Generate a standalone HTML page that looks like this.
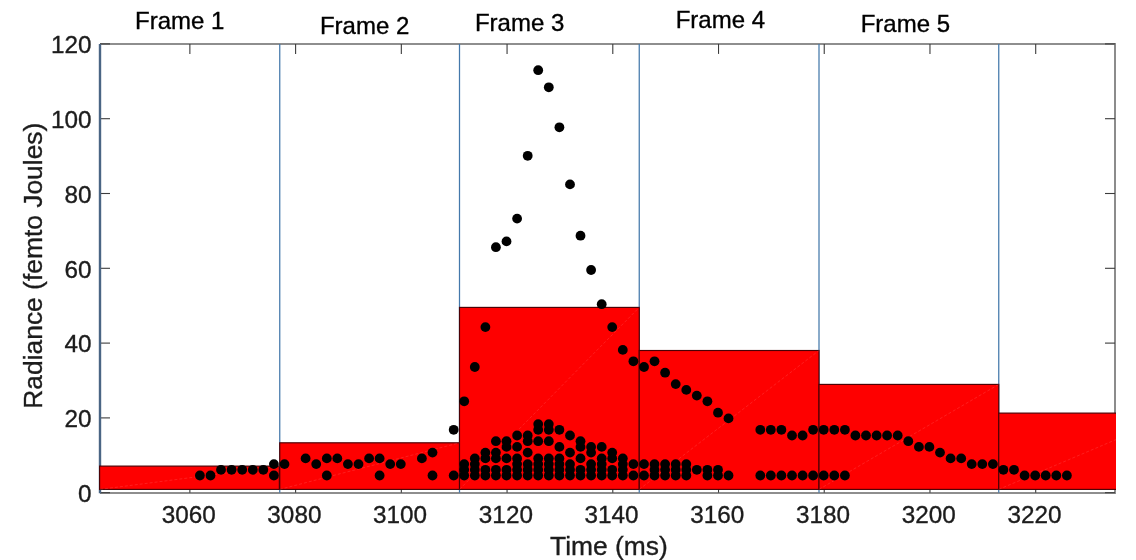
<!DOCTYPE html><html><head><meta charset="utf-8"><title>Radiance vs Time</title>
<style>html,body{margin:0;padding:0;background:#fff}svg{display:block}text{font-family:"Liberation Sans",Arial,Helvetica,sans-serif}</style></head><body>
<svg width="1136" height="560" viewBox="0 0 1136 560">
<rect x="0" y="0" width="1136" height="560" fill="#ffffff"/>
<g stroke="#8e8e8e" stroke-width="2" fill="none">
<line x1="100" y1="43.9" x2="1116" y2="43.9"/>
<line x1="100" y1="493.0" x2="1116" y2="493.0"/>
</g>
<line x1="1115" y1="43.9" x2="1115" y2="492.7" stroke="#8c8c8c" stroke-width="2"/>
<g stroke="#3c3c3c" stroke-width="1.1" fill="none">
<line x1="189.87" y1="43.9" x2="189.87" y2="53.9"/>
<line x1="189.87" y1="492.7" x2="189.87" y2="482.7"/>
<line x1="295.60" y1="43.9" x2="295.60" y2="53.9"/>
<line x1="295.60" y1="492.7" x2="295.60" y2="482.7"/>
<line x1="401.33" y1="43.9" x2="401.33" y2="53.9"/>
<line x1="401.33" y1="492.7" x2="401.33" y2="482.7"/>
<line x1="507.06" y1="43.9" x2="507.06" y2="53.9"/>
<line x1="507.06" y1="492.7" x2="507.06" y2="482.7"/>
<line x1="612.79" y1="43.9" x2="612.79" y2="53.9"/>
<line x1="612.79" y1="492.7" x2="612.79" y2="482.7"/>
<line x1="718.52" y1="43.9" x2="718.52" y2="53.9"/>
<line x1="718.52" y1="492.7" x2="718.52" y2="482.7"/>
<line x1="824.24" y1="43.9" x2="824.24" y2="53.9"/>
<line x1="824.24" y1="492.7" x2="824.24" y2="482.7"/>
<line x1="929.97" y1="43.9" x2="929.97" y2="53.9"/>
<line x1="929.97" y1="492.7" x2="929.97" y2="482.7"/>
<line x1="1035.70" y1="43.9" x2="1035.70" y2="53.9"/>
<line x1="1035.70" y1="492.7" x2="1035.70" y2="482.7"/>
<line x1="100" y1="492.70" x2="110" y2="492.70"/>
<line x1="1115" y1="492.70" x2="1105" y2="492.70"/>
<line x1="100" y1="417.90" x2="110" y2="417.90"/>
<line x1="1115" y1="417.90" x2="1105" y2="417.90"/>
<line x1="100" y1="343.10" x2="110" y2="343.10"/>
<line x1="1115" y1="343.10" x2="1105" y2="343.10"/>
<line x1="100" y1="268.30" x2="110" y2="268.30"/>
<line x1="1115" y1="268.30" x2="1105" y2="268.30"/>
<line x1="100" y1="193.50" x2="110" y2="193.50"/>
<line x1="1115" y1="193.50" x2="1105" y2="193.50"/>
<line x1="100" y1="118.70" x2="110" y2="118.70"/>
<line x1="1115" y1="118.70" x2="1105" y2="118.70"/>
<line x1="100" y1="43.90" x2="110" y2="43.90"/>
<line x1="1115" y1="43.90" x2="1105" y2="43.90"/>
</g>
<g stroke="#4478ab" stroke-width="1.25" fill="none">
<line x1="279.75" y1="43.9" x2="279.75" y2="492.7"/>
<line x1="459.5" y1="43.9" x2="459.5" y2="492.7"/>
<line x1="639.25" y1="43.9" x2="639.25" y2="492.7"/>
<line x1="819.0" y1="43.9" x2="819.0" y2="492.7"/>
<line x1="998.75" y1="43.9" x2="998.75" y2="492.7"/>
</g>
<line x1="100" y1="43.9" x2="100" y2="493.2" stroke="#4a6584" stroke-width="2.4"/>
<defs><clipPath id="plotclip"><rect x="98" y="40" width="1018" height="452"/></clipPath></defs>
<g fill="#fe0000" stroke="#4a0004" stroke-width="1.15" clip-path="url(#plotclip)">
<rect x="99.60" y="466.1" width="179.75" height="23.30"/>
<rect x="279.75" y="442.8" width="179.75" height="46.60"/>
<rect x="459.50" y="307.4" width="179.75" height="182.00"/>
<rect x="639.25" y="350.5" width="179.75" height="138.90"/>
<rect x="819.00" y="384.4" width="179.75" height="105.00"/>
<rect x="998.75" y="413.1" width="179.65" height="76.30"/>
</g>
<g clip-path="url(#plotclip)" stroke="#ffffff" stroke-opacity="0.2" stroke-width="0.6" stroke-dasharray="3 2" fill="none">
<line x1="100" y1="489.4" x2="279.75" y2="466.1"/>
<line x1="279.75" y1="489.4" x2="459.5" y2="442.8"/>
<line x1="459.5" y1="489.4" x2="639.25" y2="307.4"/>
<line x1="639.25" y1="489.4" x2="819.0" y2="350.5"/>
<line x1="819.0" y1="489.4" x2="998.75" y2="384.4"/>
<line x1="998.75" y1="489.4" x2="1178.4" y2="413.1"/>
</g>
<g fill="#000000">
<circle cx="199.9" cy="475.5" r="4.9"/>
<circle cx="210.5" cy="475.5" r="4.9"/>
<circle cx="221.0" cy="469.8" r="4.9"/>
<circle cx="231.6" cy="469.8" r="4.9"/>
<circle cx="242.2" cy="469.8" r="4.9"/>
<circle cx="252.8" cy="469.8" r="4.9"/>
<circle cx="263.3" cy="469.8" r="4.9"/>
<circle cx="273.9" cy="475.5" r="4.9"/>
<circle cx="273.9" cy="464.1" r="4.9"/>
<circle cx="284.5" cy="464.1" r="4.9"/>
<circle cx="305.6" cy="458.4" r="4.9"/>
<circle cx="316.2" cy="464.1" r="4.9"/>
<circle cx="326.8" cy="475.5" r="4.9"/>
<circle cx="326.8" cy="458.4" r="4.9"/>
<circle cx="337.3" cy="458.4" r="4.9"/>
<circle cx="347.9" cy="464.1" r="4.9"/>
<circle cx="358.5" cy="464.1" r="4.9"/>
<circle cx="369.1" cy="458.4" r="4.9"/>
<circle cx="379.6" cy="475.5" r="4.9"/>
<circle cx="379.6" cy="458.4" r="4.9"/>
<circle cx="390.2" cy="464.1" r="4.9"/>
<circle cx="400.8" cy="464.1" r="4.9"/>
<circle cx="421.9" cy="458.4" r="4.9"/>
<circle cx="432.5" cy="475.5" r="4.9"/>
<circle cx="432.5" cy="452.6" r="4.9"/>
<circle cx="453.7" cy="475.5" r="4.9"/>
<circle cx="453.7" cy="429.8" r="4.9"/>
<circle cx="464.2" cy="475.5" r="4.9"/>
<circle cx="464.2" cy="469.8" r="4.9"/>
<circle cx="464.2" cy="464.1" r="4.9"/>
<circle cx="464.2" cy="401.3" r="4.9"/>
<circle cx="474.8" cy="475.5" r="4.9"/>
<circle cx="474.8" cy="469.8" r="4.9"/>
<circle cx="474.8" cy="464.1" r="4.9"/>
<circle cx="474.8" cy="458.4" r="4.9"/>
<circle cx="474.8" cy="367.0" r="4.9"/>
<circle cx="485.4" cy="475.5" r="4.9"/>
<circle cx="485.4" cy="469.8" r="4.9"/>
<circle cx="485.4" cy="458.4" r="4.9"/>
<circle cx="485.4" cy="452.6" r="4.9"/>
<circle cx="485.4" cy="327.1" r="4.9"/>
<circle cx="495.9" cy="475.5" r="4.9"/>
<circle cx="495.9" cy="469.8" r="4.9"/>
<circle cx="495.9" cy="458.4" r="4.9"/>
<circle cx="495.9" cy="452.6" r="4.9"/>
<circle cx="495.9" cy="441.2" r="4.9"/>
<circle cx="495.9" cy="247.2" r="4.9"/>
<circle cx="506.5" cy="475.5" r="4.9"/>
<circle cx="506.5" cy="469.8" r="4.9"/>
<circle cx="506.5" cy="458.4" r="4.9"/>
<circle cx="506.5" cy="446.9" r="4.9"/>
<circle cx="506.5" cy="441.2" r="4.9"/>
<circle cx="506.5" cy="241.4" r="4.9"/>
<circle cx="517.1" cy="475.5" r="4.9"/>
<circle cx="517.1" cy="469.8" r="4.9"/>
<circle cx="517.1" cy="464.1" r="4.9"/>
<circle cx="517.1" cy="458.4" r="4.9"/>
<circle cx="517.1" cy="446.9" r="4.9"/>
<circle cx="517.1" cy="435.5" r="4.9"/>
<circle cx="517.1" cy="218.6" r="4.9"/>
<circle cx="527.7" cy="475.5" r="4.9"/>
<circle cx="527.7" cy="469.8" r="4.9"/>
<circle cx="527.7" cy="464.1" r="4.9"/>
<circle cx="527.7" cy="452.6" r="4.9"/>
<circle cx="527.7" cy="441.2" r="4.9"/>
<circle cx="527.7" cy="435.5" r="4.9"/>
<circle cx="527.7" cy="155.8" r="4.9"/>
<circle cx="538.2" cy="475.5" r="4.9"/>
<circle cx="538.2" cy="469.8" r="4.9"/>
<circle cx="538.2" cy="464.1" r="4.9"/>
<circle cx="538.2" cy="458.4" r="4.9"/>
<circle cx="538.2" cy="441.2" r="4.9"/>
<circle cx="538.2" cy="429.8" r="4.9"/>
<circle cx="538.2" cy="424.1" r="4.9"/>
<circle cx="538.2" cy="70.2" r="4.9"/>
<circle cx="548.8" cy="475.5" r="4.9"/>
<circle cx="548.8" cy="469.8" r="4.9"/>
<circle cx="548.8" cy="464.1" r="4.9"/>
<circle cx="548.8" cy="458.4" r="4.9"/>
<circle cx="548.8" cy="441.2" r="4.9"/>
<circle cx="548.8" cy="429.8" r="4.9"/>
<circle cx="548.8" cy="424.1" r="4.9"/>
<circle cx="548.8" cy="87.3" r="4.9"/>
<circle cx="559.4" cy="475.5" r="4.9"/>
<circle cx="559.4" cy="469.8" r="4.9"/>
<circle cx="559.4" cy="464.1" r="4.9"/>
<circle cx="559.4" cy="458.4" r="4.9"/>
<circle cx="559.4" cy="446.9" r="4.9"/>
<circle cx="559.4" cy="429.8" r="4.9"/>
<circle cx="559.4" cy="127.3" r="4.9"/>
<circle cx="570.0" cy="475.5" r="4.9"/>
<circle cx="570.0" cy="469.8" r="4.9"/>
<circle cx="570.0" cy="464.1" r="4.9"/>
<circle cx="570.0" cy="452.6" r="4.9"/>
<circle cx="570.0" cy="435.5" r="4.9"/>
<circle cx="570.0" cy="184.4" r="4.9"/>
<circle cx="580.5" cy="475.5" r="4.9"/>
<circle cx="580.5" cy="469.8" r="4.9"/>
<circle cx="580.5" cy="458.4" r="4.9"/>
<circle cx="580.5" cy="446.9" r="4.9"/>
<circle cx="580.5" cy="441.2" r="4.9"/>
<circle cx="580.5" cy="235.7" r="4.9"/>
<circle cx="591.1" cy="475.5" r="4.9"/>
<circle cx="591.1" cy="469.8" r="4.9"/>
<circle cx="591.1" cy="464.1" r="4.9"/>
<circle cx="591.1" cy="452.6" r="4.9"/>
<circle cx="591.1" cy="446.9" r="4.9"/>
<circle cx="591.1" cy="270.0" r="4.9"/>
<circle cx="601.7" cy="475.5" r="4.9"/>
<circle cx="601.7" cy="469.8" r="4.9"/>
<circle cx="601.7" cy="464.1" r="4.9"/>
<circle cx="601.7" cy="458.4" r="4.9"/>
<circle cx="601.7" cy="446.9" r="4.9"/>
<circle cx="601.7" cy="304.2" r="4.9"/>
<circle cx="612.2" cy="475.5" r="4.9"/>
<circle cx="612.2" cy="469.8" r="4.9"/>
<circle cx="612.2" cy="458.4" r="4.9"/>
<circle cx="612.2" cy="452.6" r="4.9"/>
<circle cx="612.2" cy="327.1" r="4.9"/>
<circle cx="622.8" cy="475.5" r="4.9"/>
<circle cx="622.8" cy="469.8" r="4.9"/>
<circle cx="622.8" cy="464.1" r="4.9"/>
<circle cx="622.8" cy="458.4" r="4.9"/>
<circle cx="622.8" cy="349.9" r="4.9"/>
<circle cx="633.4" cy="475.5" r="4.9"/>
<circle cx="633.4" cy="464.1" r="4.9"/>
<circle cx="633.4" cy="361.3" r="4.9"/>
<circle cx="644.0" cy="475.5" r="4.9"/>
<circle cx="644.0" cy="464.1" r="4.9"/>
<circle cx="644.0" cy="367.0" r="4.9"/>
<circle cx="654.5" cy="475.5" r="4.9"/>
<circle cx="654.5" cy="469.8" r="4.9"/>
<circle cx="654.5" cy="464.1" r="4.9"/>
<circle cx="654.5" cy="361.3" r="4.9"/>
<circle cx="665.1" cy="475.5" r="4.9"/>
<circle cx="665.1" cy="469.8" r="4.9"/>
<circle cx="665.1" cy="464.1" r="4.9"/>
<circle cx="665.1" cy="372.7" r="4.9"/>
<circle cx="675.7" cy="475.5" r="4.9"/>
<circle cx="675.7" cy="469.8" r="4.9"/>
<circle cx="675.7" cy="464.1" r="4.9"/>
<circle cx="675.7" cy="384.1" r="4.9"/>
<circle cx="686.3" cy="475.5" r="4.9"/>
<circle cx="686.3" cy="469.8" r="4.9"/>
<circle cx="686.3" cy="464.1" r="4.9"/>
<circle cx="686.3" cy="389.9" r="4.9"/>
<circle cx="696.8" cy="469.8" r="4.9"/>
<circle cx="696.8" cy="395.6" r="4.9"/>
<circle cx="707.4" cy="475.5" r="4.9"/>
<circle cx="707.4" cy="469.8" r="4.9"/>
<circle cx="707.4" cy="401.3" r="4.9"/>
<circle cx="718.0" cy="475.5" r="4.9"/>
<circle cx="718.0" cy="469.8" r="4.9"/>
<circle cx="718.0" cy="412.7" r="4.9"/>
<circle cx="728.5" cy="475.5" r="4.9"/>
<circle cx="728.5" cy="418.4" r="4.9"/>
<circle cx="760.3" cy="475.5" r="4.9"/>
<circle cx="760.3" cy="429.8" r="4.9"/>
<circle cx="770.8" cy="475.5" r="4.9"/>
<circle cx="770.8" cy="429.8" r="4.9"/>
<circle cx="781.4" cy="475.5" r="4.9"/>
<circle cx="781.4" cy="429.8" r="4.9"/>
<circle cx="792.0" cy="475.5" r="4.9"/>
<circle cx="792.0" cy="435.5" r="4.9"/>
<circle cx="802.6" cy="475.5" r="4.9"/>
<circle cx="802.6" cy="435.5" r="4.9"/>
<circle cx="813.1" cy="475.5" r="4.9"/>
<circle cx="813.1" cy="429.8" r="4.9"/>
<circle cx="823.7" cy="475.5" r="4.9"/>
<circle cx="823.7" cy="429.8" r="4.9"/>
<circle cx="834.3" cy="475.5" r="4.9"/>
<circle cx="834.3" cy="429.8" r="4.9"/>
<circle cx="844.9" cy="475.5" r="4.9"/>
<circle cx="844.9" cy="429.8" r="4.9"/>
<circle cx="855.4" cy="435.5" r="4.9"/>
<circle cx="866.0" cy="435.5" r="4.9"/>
<circle cx="876.6" cy="435.5" r="4.9"/>
<circle cx="887.1" cy="435.5" r="4.9"/>
<circle cx="897.7" cy="435.5" r="4.9"/>
<circle cx="908.3" cy="441.2" r="4.9"/>
<circle cx="918.9" cy="446.9" r="4.9"/>
<circle cx="929.4" cy="446.9" r="4.9"/>
<circle cx="940.0" cy="452.6" r="4.9"/>
<circle cx="950.6" cy="458.4" r="4.9"/>
<circle cx="961.2" cy="458.4" r="4.9"/>
<circle cx="971.7" cy="464.1" r="4.9"/>
<circle cx="982.3" cy="464.1" r="4.9"/>
<circle cx="992.9" cy="464.1" r="4.9"/>
<circle cx="1003.4" cy="469.8" r="4.9"/>
<circle cx="1014.0" cy="469.8" r="4.9"/>
<circle cx="1024.6" cy="475.5" r="4.9"/>
<circle cx="1035.2" cy="475.5" r="4.9"/>
<circle cx="1045.7" cy="475.5" r="4.9"/>
<circle cx="1056.3" cy="475.5" r="4.9"/>
<circle cx="1066.9" cy="475.5" r="4.9"/>
</g>
<g fill="#000000" stroke="#000000" stroke-width="0.35" font-size="24px">
<text x="135.0" y="28.9">Frame 1</text>
<text x="319.9" y="33.9">Frame 2</text>
<text x="474.9" y="31.0">Frame 3</text>
<text x="675.7" y="28.0">Frame 4</text>
<text x="860.7" y="31.8">Frame 5</text>
</g>
<g fill="#1c1c1c" stroke="#1c1c1c" stroke-width="0.35" font-size="24.3px">
<text x="91.5" y="502.0" text-anchor="end">0</text>
<text x="91.5" y="427.2" text-anchor="end">20</text>
<text x="91.5" y="352.4" text-anchor="end">40</text>
<text x="91.5" y="277.6" text-anchor="end">60</text>
<text x="91.5" y="202.8" text-anchor="end">80</text>
<text x="91.5" y="128.0" text-anchor="end">100</text>
<text x="91.5" y="53.2" text-anchor="end">120</text>
<text x="188.7" y="523.2" text-anchor="middle">3060</text>
<text x="294.4" y="523.2" text-anchor="middle">3080</text>
<text x="400.1" y="523.2" text-anchor="middle">3100</text>
<text x="505.9" y="523.2" text-anchor="middle">3120</text>
<text x="611.6" y="523.2" text-anchor="middle">3140</text>
<text x="717.3" y="523.2" text-anchor="middle">3160</text>
<text x="823.0" y="523.2" text-anchor="middle">3180</text>
<text x="928.8" y="523.2" text-anchor="middle">3200</text>
<text x="1034.5" y="523.2" text-anchor="middle">3220</text>
</g>
<g fill="#1c1c1c" stroke="#1c1c1c" stroke-width="0.35" font-size="26.4px">
<text x="608.9" y="554.8" text-anchor="middle">Time (ms)</text>
<text transform="translate(42.3,265.7) rotate(-90)" text-anchor="middle">Radiance (femto Joules)</text>
</g>
</svg></body></html>
